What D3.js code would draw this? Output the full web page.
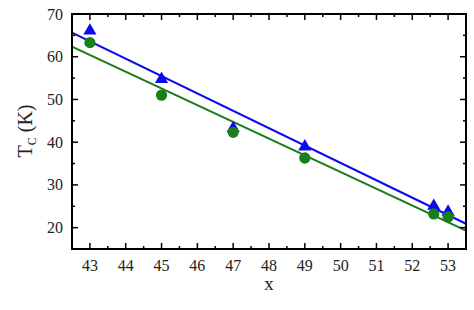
<!DOCTYPE html>
<html>
<head>
<meta charset="utf-8">
<script src="https://cdn.jsdelivr.net/npm/d3@7"></script>
<style>
  body { margin: 0; background: #fff; }
  text { font-family: "Liberation Serif", "DejaVu Serif", serif; }
</style>
</head>
<body>
<div id="chart"></div>
<script>
// composition x and critical temperature T_C (K)
const xValues = [43, 45, 47, 49, 52.6, 53];
const tcTriangles = [66.3, 55.0, 43.5, 39.2, 25.3, 23.9];
const tcCircles = [63.3, 51.0, 42.3, 36.3, 23.2, 22.5];
const xTicks = [43, 44, 45, 46, 47, 48, 49, 50, 51, 52, 53];
const yTicks = [20, 30, 40, 50, 60, 70];

const width = 474, height = 310;
const margin = { top: 14, right: 8, bottom: 61, left: 72 };

const svg = d3.select('#chart').append('svg')
  .attr('width', width)
  .attr('height', height);

const x = d3.scaleLinear().domain([42.5, 53.5]).range([margin.left, width - margin.right]);
const y = d3.scaleLinear().domain([15, 70]).range([height - margin.bottom, margin.top]);

const plot = svg.append('g');

plot.append('defs').append('clipPath').attr('id', 'clip')
  .append('rect')
  .attr('x', margin.left).attr('y', margin.top)
  .attr('width', x.range()[1] - x.range()[0])
  .attr('height', y.range()[0] - y.range()[1]);

// least-squares fit of each set
function fit(xs, ys) {
  const mx = d3.mean(xs), my = d3.mean(ys);
  const sxy = d3.sum(xs, (v, i) => (v - mx) * (ys[i] - my));
  const sxx = d3.sum(xs, v => (v - mx) * (v - mx));
  const slope = sxy / sxx;
  return v => my + slope * (v - mx);
}

const series = [
  { values: tcTriangles, color: '#0a0af0', shape: d3.symbolTriangle },
  { values: tcCircles, color: '#1a7f1a', shape: d3.symbolCircle },
];

series.forEach(s => {
  const f = fit(xValues, s.values);
  plot.append('line')
    .attr('clip-path', 'url(#clip)')
    .attr('x1', x(x.domain()[0])).attr('y1', y(f(x.domain()[0])))
    .attr('x2', x(x.domain()[1])).attr('y2', y(f(x.domain()[1])))
    .attr('stroke', s.color)
    .attr('stroke-width', 2);
});

series.forEach(s => {
  const size = s.shape === d3.symbolCircle ? 100 : 75;
  plot.selectAll(null)
    .data(xValues.map((v, i) => [v, s.values[i]]))
    .enter().append('path')
    .attr('d', d3.symbol(s.shape, size))
    .attr('transform', d => `translate(${x(d[0])},${y(d[1]) + (s.shape === d3.symbolCircle ? 0 : 1)})`)
    .attr('fill', s.color);
});

// frame with inward ticks on all sides
const tickLen = 6, minorLen = 3;
const axisG = svg.append('g').attr('stroke', '#000');
const xMinor = d3.range(42.5, 53.51, 0.5).filter(v => !xTicks.includes(v) && v > 42.5 && v < 53.5);
const yMinor = d3.range(15, 70, 5).filter(v => !yTicks.includes(v) && v > 15);

xTicks.forEach(v => {
  axisG.append('line').attr('x1', x(v)).attr('x2', x(v))
    .attr('y1', y.range()[0]).attr('y2', y.range()[0] - tickLen).attr('stroke-width', 1.5);
  axisG.append('line').attr('x1', x(v)).attr('x2', x(v))
    .attr('y1', y.range()[1]).attr('y2', y.range()[1] + tickLen).attr('stroke-width', 1.5);
});
xMinor.forEach(v => {
  axisG.append('line').attr('x1', x(v)).attr('x2', x(v))
    .attr('y1', y.range()[0]).attr('y2', y.range()[0] - minorLen).attr('stroke-width', 1.5);
  axisG.append('line').attr('x1', x(v)).attr('x2', x(v))
    .attr('y1', y.range()[1]).attr('y2', y.range()[1] + minorLen).attr('stroke-width', 1.5);
});
yTicks.forEach(v => {
  axisG.append('line').attr('x1', x.range()[0]).attr('x2', x.range()[0] + tickLen)
    .attr('y1', y(v)).attr('y2', y(v)).attr('stroke-width', 1.5);
  axisG.append('line').attr('x1', x.range()[1]).attr('x2', x.range()[1] - tickLen)
    .attr('y1', y(v)).attr('y2', y(v)).attr('stroke-width', 1.5);
});
yMinor.forEach(v => {
  axisG.append('line').attr('x1', x.range()[0]).attr('x2', x.range()[0] + minorLen)
    .attr('y1', y(v)).attr('y2', y(v)).attr('stroke-width', 1.5);
  axisG.append('line').attr('x1', x.range()[1]).attr('x2', x.range()[1] - minorLen)
    .attr('y1', y(v)).attr('y2', y(v)).attr('stroke-width', 1.5);
});

axisG.append('rect')
  .attr('x', x.range()[0]).attr('y', y.range()[1])
  .attr('width', x.range()[1] - x.range()[0])
  .attr('height', y.range()[0] - y.range()[1])
  .attr('fill', 'none')
  .attr('stroke-width', 2);

// tick labels
svg.selectAll('text.xtick')
  .data(xTicks)
  .enter().append('text')
  .attr('class', 'xtick')
  .attr('x', d => x(d))
  .attr('y', y.range()[0] + 22)
  .attr('text-anchor', 'middle')
  .attr('font-size', 16)
  .attr('fill', '#222')
  .text(d => d);

svg.selectAll('text.ytick')
  .data(yTicks)
  .enter().append('text')
  .attr('class', 'ytick')
  .attr('x', x.range()[0] - 9)
  .attr('y', d => y(d) + 5.5)
  .attr('text-anchor', 'end')
  .attr('font-size', 16)
  .attr('fill', '#222')
  .text(d => d);

// axis titles
svg.append('text')
  .attr('x', (x.range()[0] + x.range()[1]) / 2)
  .attr('y', 290)
  .attr('text-anchor', 'middle')
  .attr('font-size', 19)
  .attr('fill', '#222')
  .text('x');

const yTitle = svg.append('text')
  .attr('transform', `translate(32,131) rotate(-90)`)
  .attr('text-anchor', 'middle')
  .attr('font-size', 20)
  .attr('fill', '#222');
yTitle.append('tspan').text('T');
yTitle.append('tspan').attr('font-size', 12).attr('dy', 4).text('C');
yTitle.append('tspan').attr('dy', -4).text(' (K)');
</script>
</body>
</html>
